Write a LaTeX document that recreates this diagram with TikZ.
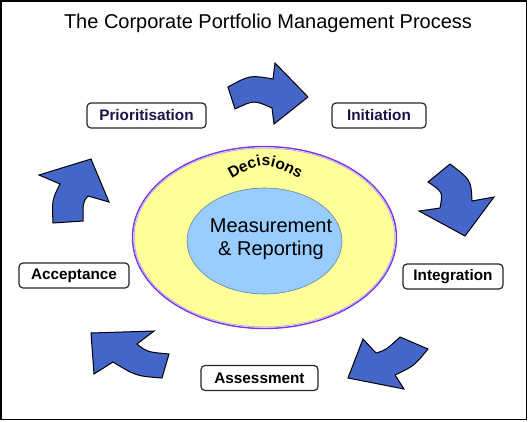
\documentclass[tikz,border=0pt]{standalone}
\usepackage{fontspec}
\setmainfont{Liberation Sans}
\usetikzlibrary{decorations.text}
\definecolor{arrowblue}{HTML}{4466C8}
\definecolor{decisionyellow}{HTML}{FFFF99}
\definecolor{ringviolet}{HTML}{7F33F0}
\definecolor{ringlight}{HTML}{AFAFFF}
\definecolor{measureblue}{HTML}{99CCFF}
\definecolor{stagenavy}{HTML}{1C1448}
\tikzset{
  stagebox/.style={draw=black!85, line width=1.2pt, rounded corners=4pt, fill=white,
    minimum height=25pt, inner sep=0pt, font=\fontsize{15.3}{18}\selectfont\bfseries},
  blockarrow/.style={fill=arrowblue, draw=black, line width=1pt, line join=miter},
}
\begin{document}
\begin{tikzpicture}[x=1pt,y=-1pt]
  \useasboundingbox (0,0) rectangle (528,421);
  \draw[line width=1.2pt] (1,1) rectangle (526.5,419.5);

  \node[anchor=base, font=\fontsize{20}{24}\selectfont] (title) at (268,28)
    {The Corporate Portfolio Management Process};

  % decisions ring and measurement core
  \draw[fill=decisionyellow, draw=ringviolet, line width=1.4pt] (264.5,237.5) ellipse (132 and 91);
  \draw[draw=ringlight, line width=0.8pt] (264.5,237.5) ellipse (130.4 and 89.4);
  \draw[fill=measureblue, draw=black!35!measureblue, line width=0.6pt] (264.5,241) ellipse (77.5 and 53);
  \node[align=center, font=\fontsize{20}{22.5}\selectfont] (core) at (271,239)
    {Measurement\\\& Reporting};
  \path[decorate, decoration={text along path, text align=center,
      text={|\fontsize{15.5}{17}\selectfont\bfseries|Decisions}}]
    (224,183) .. controls (265,160) .. (307,183);

  % stages
  \node[stagebox, minimum width=119pt, text=stagenavy] (prio)   at (146.5,115.5) {Prioritisation};
  \node[stagebox, minimum width=94pt, text=stagenavy]  (init)   at (379,115.5)   {Initiation};
  \node[stagebox, minimum width=100pt] (integ)  at (453,276.5)   {Integration};
  \node[stagebox, minimum width=110pt] (accept) at (74,275.5)    {Acceptance};
  \node[stagebox, minimum width=117pt] (assess) at (259.5,378)   {Assessment};

  % curved block arrows, clockwise
  \draw[blockarrow] (228,87) .. controls (250,75) .. (273,79) -- (275,63) -- (308,97)
    -- (274,124) -- (272,108) .. controls (254,100) .. (235,109) -- cycle;
  \draw[blockarrow] (450,164) .. controls (471,180) .. (472,201) -- (494,197) -- (465,236)
    -- (419,211) -- (440,208) .. controls (443,192) .. (428,182) -- cycle;
  \draw[blockarrow] (428,349) .. controls (414,366) .. (395,375) -- (404,389) -- (348,378)
    -- (363,339) -- (376,353) .. controls (386,350) .. (400,337) -- cycle;
  \draw[blockarrow] (91,333) -- (154,331) -- (137,344) .. controls (147,352) .. (169,354)
    -- (162,378) .. controls (136,376) .. (113,362) -- (94,374) -- cycle;
  \draw[blockarrow] (91,159) -- (109,202) -- (88,196) .. controls (83,202) .. (83,221)
    -- (53,223) .. controls (52,200) .. (60,184) -- (39,175) -- cycle;
\end{tikzpicture}
\end{document}
